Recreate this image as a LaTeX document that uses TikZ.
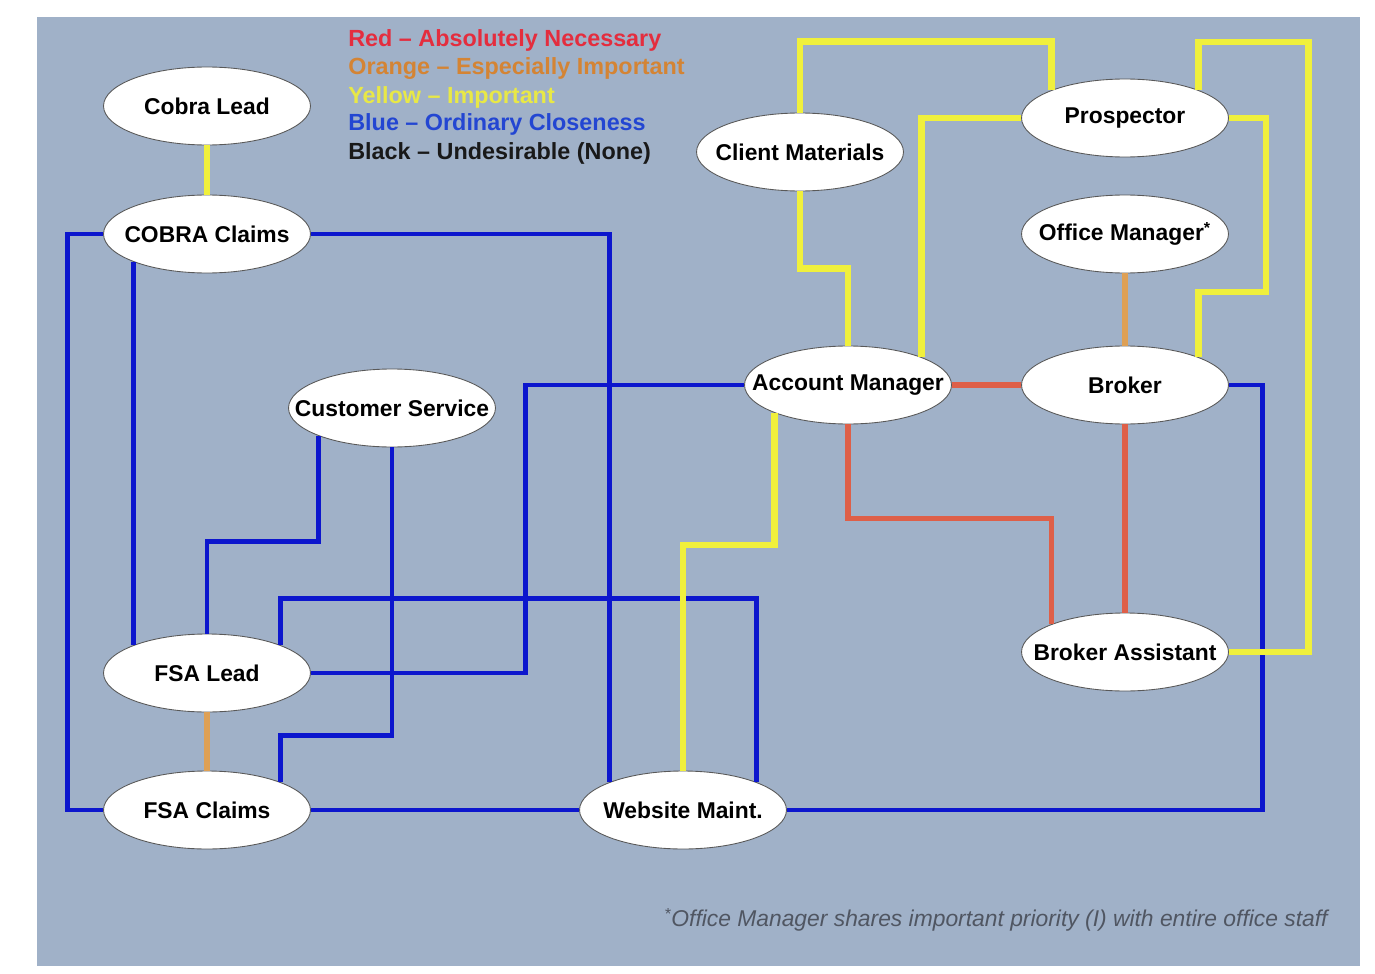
\documentclass[tikz,border=0pt]{standalone}
\usepackage{fontspec}
\setmainfont{Liberation Sans}
\usepackage{tikz}
\usetikzlibrary{shapes.geometric}

\definecolor{panel}{RGB}{160,177,200}
\definecolor{ordblue}{RGB}{12,22,205}
\definecolor{impyellow}{RGB}{240,240,60}
\definecolor{esporange}{RGB}{222,160,85}
\definecolor{necred}{RGB}{222,95,72}
\definecolor{txtred}{RGB}{228,45,62}
\definecolor{txtorange}{RGB}{212,132,52}
\definecolor{txtyellow}{RGB}{232,232,70}
\definecolor{txtblue}{RGB}{35,70,210}
\definecolor{notegray}{RGB}{80,86,98}

\newcommand\rolename[1]{\makebox[0pt]{#1}}

\begin{document}
\begin{tikzpicture}[x=0.02cm,y=-0.02cm,
	role/.style={ellipse,draw=black!65,line width=0.5pt,fill=white,minimum width=4.14cm,minimum height=1.56cm,inner sep=0pt,font=\fontsize{13}{15}\selectfont\bfseries},
	ord/.style={draw=ordblue,line width=2.8pt},
	imp/.style={draw=impyellow,line width=3.8pt},
	esp/.style={draw=esporange,line width=3.2pt},
	nec/.style={draw=necred,line width=3.2pt},
	legend/.style={anchor=west,inner sep=0pt,font=\fontsize{13.3}{15}\selectfont\bfseries}]
	\useasboundingbox (0,0) rectangle (1375,973);
	\fill[panel] (37,17) rectangle (1360,966);

	\node[role] (cl) at (207,106) {\rolename{Cobra Lead}};
	\node[role] (cc) at (207,234) {\rolename{COBRA Claims}};
	\node[role] (cs) at (392,408) {\rolename{Customer Service}};
	\node[role] (fl) at (207,673) {\rolename{FSA Lead}};
	\node[role] (fc) at (207,810) {\rolename{FSA Claims}};
	\node[role] (wm) at (683,810) {\rolename{Website Maint.}};
	\node[role] (cm) at (800,152) {\rolename{Client Materials}};
	\node[role] (am) at (848,385) {\rolename{Account Manager}};
	\node[role] (pr) at (1125,118) {\rolename{Prospector}};
	\node[role] (om) at (1125,234) {\rolename{Office Manager\textsuperscript{*}}};
	\node[role] (br) at (1125,385) {\rolename{Broker}};
	\node[role] (ba) at (1125,652) {\rolename{Broker Assistant}};

	\draw[ord] (cc.west) -- ++(-36,0) |- (fc.west);
	\draw[ord] (cc.south west) -- (fl.north west);
	\draw[ord] (cc.east) -| (wm.north west);
	\draw[ord] (cs.south west) -- ++(0,106) -| (fl.north);
	\draw[ord] (cs.south) -- ++(0,288) -| (fc.north east);
	\draw[ord] (fl.east) -- ++(215,0) |- (am.west);
	\draw[ord] (fl.north east) -- ++(0,-47) -| (wm.north east);
	\draw[ord] (fc.east) -- (wm.west);
	\draw[ord] (wm.east) -- ++(476,0) |- (br.east);

	\draw[imp] (cl.south) -- (cc.north);
	\draw[imp] (cm.south) -- ++(0,77) -| (am.north);
	\draw[imp] (cm.north) -- ++(0,-71) -| (pr.north west);
	\draw[imp] (pr.west) -| (am.north east);
	\draw[imp] (pr.east) -| ++(37,174) -| (br.north east);
	\draw[imp] (pr.north east) -- ++(0,-48) -- ++(110,0) |- (ba.east);
	\draw[imp] (am.south west) -- ++(0,132) -| (wm.north);

	\draw[esp] (om.south) -- (br.north);
	\draw[esp] (fl.south) -- (fc.north);

	\draw[nec] (am.east) -- (br.west);
	\draw[nec] (am.south) -- ++(0,94) -| (ba.north west);
	\draw[nec] (br.south) -- (ba.north);

	\node[legend,text=txtred] (lred) at (348,40) {Red -- Absolutely Necessary};
	\node[legend,text=txtorange] (lorange) at (348,69) {Orange -- Especially Important};
	\node[legend,text=txtyellow] (lyellow) at (348,97) {Yellow -- Important};
	\node[legend,text=txtblue] (lblue) at (348,124) {Blue -- Ordinary Closeness};
	\node[legend,text=black!90] (lblack) at (348,153) {Black -- Undesirable (None)};

	\node[anchor=east,inner sep=0pt,text=notegray,font=\fontsize{13}{15}\selectfont\itshape] (note) at (1328,920) {\textsuperscript{*}Office Manager shares important priority (I) with entire office staff};
\end{tikzpicture}
\end{document}
